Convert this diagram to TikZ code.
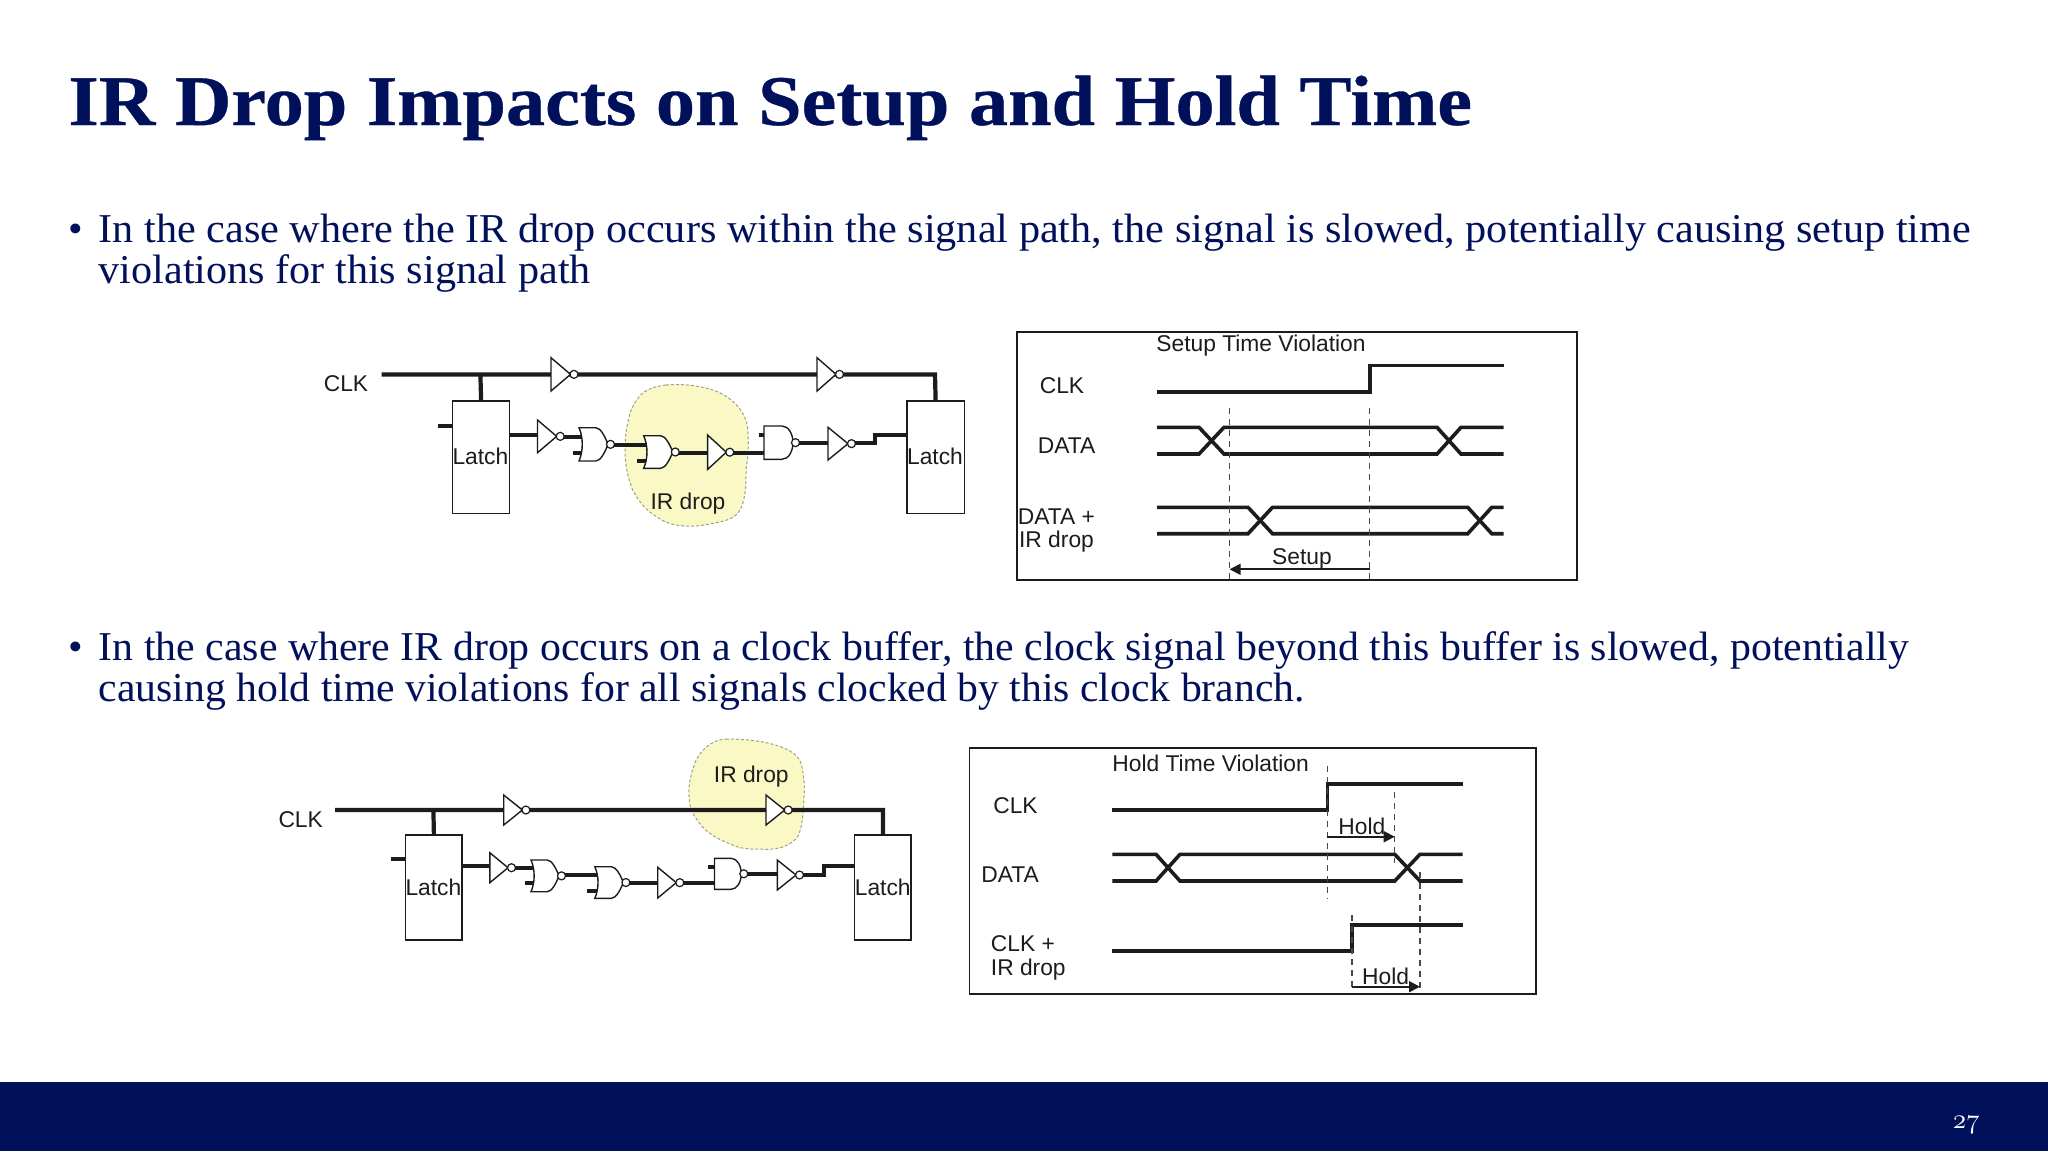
\documentclass[tikz,border=0pt]{standalone}
\usepackage{fontspec}
\setmainfont{Liberation Serif}
\newfontfamily\diagfont{Liberation Sans}
\newfontfamily\titlefont[FakeStretch=1.099,FakeBold=0.5]{Liberation Serif Bold}
\newfontfamily\bodyfont[FakeStretch=1.0173]{Liberation Serif}
\newfontfamily\pagefont[Numbers=OldStyle]{Latin Modern Roman}
\usetikzlibrary{arrows.meta,calc}
\definecolor{navy}{HTML}{00105A}
\definecolor{ink}{HTML}{1C1C1C}
\definecolor{blobfill}{HTML}{FAF9C6}
\definecolor{blobedge}{HTML}{A0A088}
\tikzset{
  heavy/.style={draw=ink,line width=2.1pt,line join=miter},
  thin box/.style={draw=ink,line width=0.7pt,fill=white},
  frame/.style={draw=ink,line width=0.9pt},
  wave/.style={draw=ink,line width=1.8pt},
  guide/.style={draw=ink!80,line width=0.6pt,dash pattern=on 3pt off 2.5pt},
  dim/.style={draw=ink,line width=0.9pt,-{Triangle[length=5.5pt,width=5.5pt]}},
  lab/.style={font=\diagfont\fontsize{11.4}{13}\selectfont,text=ink,inner sep=0pt,anchor=center},
  body/.style={font=\bodyfont\fontsize{20.5}{21}\selectfont,text=navy,inner sep=0pt,anchor=base west},
  blob/.style={fill=blobfill,draw=blobedge,line width=0.5pt,dash pattern=on 1.5pt off 1pt},
  bubble/.style={circle,draw=ink,fill=white,line width=0.6pt,inner sep=0pt,minimum size=4pt},
}
\newcommand{\myinv}[4]{%
  \draw[thin box] (#1,#3) -- (#2,{(#3+#4)/2}) -- (#1,#4) -- cycle;
  \node[bubble] at ({#2+3.5},{(#3+#4)/2}) {};
}
\newcommand{\mynor}[4]{%
  \draw[thin box] (#1,#3) -- ({#1+0.58*(#2-#1)},#3)
    .. controls ({#1+0.75*(#2-#1)},#3) and ({#1+0.9*(#2-#1)},{#3+0.28*(#4-#3)}) .. (#2,{(#3+#4)/2})
    .. controls ({#1+0.9*(#2-#1)},{#3+0.72*(#4-#3)}) and ({#1+0.75*(#2-#1)},#4) .. ({#1+0.58*(#2-#1)},#4)
    -- (#1,#4)
    .. controls ({#1+0.15*(#2-#1)},{#3+0.7*(#4-#3)}) and ({#1+0.15*(#2-#1)},{#3+0.3*(#4-#3)}) .. (#1,#3) -- cycle;
  \node[bubble] at ({#2+2.5},{(#3+#4)/2}) {};
}
\newcommand{\mynand}[4]{%
  \draw[thin box] (#1,#3) -- ({#1+0.62*(#2-#1)},#3)
    .. controls ({#1+0.85*(#2-#1)},#3) and (#2,{#3+0.25*(#4-#3)}) .. (#2,{(#3+#4)/2})
    .. controls (#2,{#3+0.75*(#4-#3)}) and ({#1+0.85*(#2-#1)},#4) .. ({#1+0.62*(#2-#1)},#4)
    -- (#1,#4) -- cycle;
  \node[bubble] at ({#2+2.5},{(#3+#4)/2}) {};
}
\begin{document}
\begin{tikzpicture}[x=0.5pt,y=-0.5pt]
\useasboundingbox (0,0) rectangle (2048,1151);
\fill[white] (0,0) rectangle (2048,1151);
\fill[navy] (0,1082) rectangle (2048,1151);
\node[font=\pagefont\fontsize{13.5}{14}\selectfont,text=white,inner sep=0pt,anchor=base] (pageno) at (1966,1128) {27};
\node[font=\titlefont\fontsize{35.6}{40}\selectfont,text=navy,inner sep=0pt,anchor=base west] (title) at (68,125) {IR Drop Impacts on Setup and Hold Time};

\node[body] (b1) at (68,242.5) {•};
\node[body,xscale=1.012] (t1a) at (98.5,242.5) {In the case where the IR drop occurs within the signal path, the signal is slowed, potentially causing setup time};
\node[body,xscale=1.011] (t1b) at (98.5,283.5) {violations for this signal path};
\node[body] (b2) at (68,660.5) {•};
\node[body,xscale=1.003] (t2a) at (98.5,660.5) {In the case where IR drop occurs on a clock buffer, the clock signal beyond this buffer is slowed, potentially};
\node[body,xscale=0.999] (t2b) at (98.5,701.5) {causing hold time violations for all signals clocked by this clock branch.};

% ---- Diagram 1
\filldraw[blob] (666,385) .. controls (690,383) and (712,388) .. (724,395)
  .. controls (740,405) and (748,418) .. (748,433)
  .. controls (749,450) and (747,462) .. (746,470)
  .. controls (746,490) and (745,500) .. (740,510)
  .. controls (735,518) and (728,520) .. (720,522)
  .. controls (705,525) and (695,527) .. (684,526)
  .. controls (672,525) and (664,522) .. (657,517)
  .. controls (645,510) and (638,500) .. (632.6,490)
  .. controls (628,478) and (625,465) .. (625,450)
  .. controls (625,435) and (627,425) .. (630,413)
  .. controls (634,402) and (640,395) .. (644,392)
  .. controls (650,388) and (658,386) .. (666,385) -- cycle;

\node[lab] (clk1) at (346,383.5) {CLK};
\coordinate (c1s) at (381.7,374.5);
\coordinate (c1e) at (935,374.5);
\node[thin box,minimum width=28.6pt,minimum height=56.3pt,inner sep=0pt,anchor=north west] (l1a) at (451.8,400.3) {};
\node[thin box,minimum width=28.6pt,minimum height=56.3pt,inner sep=0pt,anchor=north west] (l1b) at (906.3,400.3) {};
\draw[heavy] (c1s) -- (c1e) -- (l1b.north);
\draw[heavy] (480.4,374.5) -- (l1a.north);
\node[lab] at (480.4,456) {Latch};
\node[lab] at (935,456) {Latch};
\draw[heavy] (438,426) -- (452,426);
\draw[heavy] (509,435) -- (540,435);
\draw[heavy] (562,436.7) -- (583,436.7);
\draw[heavy] (573,452.7) -- (583,452.7);
\draw[heavy] (612,444.7) -- (648,444.7);
\draw[heavy] (637,460.7) -- (648,460.7);
\draw[heavy] (676,452.7) -- (710,452.7);
\draw[heavy] (732,452.7) -- (766,452.7);
\draw[heavy] (758.5,434.7) -- (766,434.7);
\draw[heavy] (797,443) -- (830,443);
\draw[heavy] (853,443.3) -- (875,443.3) -- (875,435) -- (906.3,435);
\myinv{551}{570.5}{357.7}{391}
\myinv{817}{836}{357.7}{391}
\myinv{537.5}{556.7}{420}{452.7}
\mynor{579}{608}{427.7}{461}
\mynor{643.7}{672.8}{435.7}{468.3}
\myinv{707.6}{726.3}{435}{469.4}
\mynand{764}{793}{426}{459.3}
\myinv{828}{848}{427.3}{460}
\node[lab] at (688,503.5) {IR drop};

% ---- Timing 1
\node[frame,minimum width=280pt,minimum height=124pt,inner sep=0pt,anchor=north west] (f1) at (1016,331) {};
\node[lab,anchor=west] at (1156,346) {Setup Time Violation};
\node[lab] at (1062,385.5) {CLK};
\node[lab] at (1066.5,446) {DATA};
\node[lab] at (1056.5,517) {DATA +};
\node[lab] at (1056.5,542) {IR drop};
\node[lab] at (1302,559) {Setup};
\draw[wave] (1157,392) -- (1369.7,392) -- (1369.7,365.3) -- (1503.6,365.3);
\draw[wave] (1157,427.3) -- (1199,427.3) -- (1224,454) -- (1437,454) -- (1461,427.3) -- (1503.6,427.3);
\draw[wave] (1157,454) -- (1199,454) -- (1224,427.3) -- (1437,427.3) -- (1461,454) -- (1503.6,454);
\draw[wave] (1157,507.3) -- (1248,507.3) -- (1272.5,533.7) -- (1467.7,533.7) -- (1491.8,507.3) -- (1503.6,507.3);
\draw[wave] (1157,533.7) -- (1248,533.7) -- (1272.5,507.3) -- (1467.7,507.3) -- (1491.8,533.7) -- (1503.6,533.7);
\draw[guide] (1229.6,408) -- (1229.6,579);
\draw[guide] (1369.7,408) -- (1369.7,579);
\coordinate (a1s) at (1369.7,569.3);
\coordinate (a1e) at (1229.6,569.3);
\draw[dim] (a1s) -- (a1e);

% ---- Diagram 2
\filldraw[blob] (726,739) .. controls (745,739) and (765,741) .. (780.4,746.7)
  .. controls (795,752) and (800,758) .. (802,766.7)
  .. controls (804,778) and (805,788) .. (804,796.7)
  .. controls (803,812) and (803,826) .. (797.7,836.7)
  .. controls (790,846) and (780,849) .. (767.4,849.3)
  .. controls (755,849) and (743,850) .. (732.7,845)
  .. controls (720,840) and (710,835) .. (702.3,826.7)
  .. controls (695,818) and (690,810) .. (689.3,800)
  .. controls (688,788) and (690,777) .. (693.6,766.7)
  .. controls (698,752) and (710,740) .. (726,739) -- cycle;
\node[lab] (clk2) at (300.7,819.5) {CLK};
\coordinate (c2s) at (335,810);
\coordinate (c2e) at (883,810);
\node[thin box,minimum width=28.2pt,minimum height=52.5pt,inner sep=0pt,anchor=north west] (l2a) at (405,834.3) {};
\node[thin box,minimum width=28.2pt,minimum height=52.5pt,inner sep=0pt,anchor=north west] (l2b) at (854,834.3) {};
\draw[heavy] (c2s) -- (c2e) -- (l2b.north);
\draw[heavy] (433.4,810) -- (l2a.north);
\node[lab] at (433.4,887) {Latch};
\node[lab] at (882.7,887) {Latch};
\draw[heavy] (391.4,859) -- (405.3,859);
\draw[heavy] (461.6,866.3) -- (492,866.3);
\draw[heavy] (513,868) -- (535,868);
\draw[heavy] (524.5,883.3) -- (535,883.3);
\draw[heavy] (563,875.3) -- (598,875.3);
\draw[heavy] (587.4,891) -- (598,891);
\draw[heavy] (627,882.7) -- (660,882.7);
\draw[heavy] (682,882.7) -- (716,882.7);
\draw[heavy] (708,866.7) -- (716,866.7);
\draw[heavy] (746,874) -- (780,874);
\draw[heavy] (801,874.7) -- (823.7,874.7) -- (823.7,866) -- (854.5,866);
\myinv{503.7}{522.4}{795}{825}
\myinv{766}{784.7}{795}{825}
\myinv{489.8}{508}{852.7}{882.7}
\mynor{531}{559}{860}{891.7}
\mynor{594.8}{623.4}{866.7}{898.3}
\myinv{657.7}{676.3}{867.3}{898}
\mynand{714.5}{741.3}{858.3}{889.3}
\myinv{777.3}{796}{860}{890}
\node[lab] at (751.3,777) {IR drop};

% ---- Timing 2
\node[frame,minimum width=283.3pt,minimum height=123pt,inner sep=0pt,anchor=north west] (f2) at (968.5,747) {};
\node[lab,anchor=west] at (1112,763) {Hold Time Violation};
\node[lab] at (1015.5,805.5) {CLK};
\node[lab] at (1010,875) {DATA};
\node[lab,anchor=west] at (990.5,944) {CLK +};
\node[lab,anchor=west] at (990.5,970) {IR drop};
\node[lab] at (1361.8,826) {Hold};
\node[lab] at (1385.6,976) {Hold};
\draw[wave] (1112.3,810) -- (1327.4,810) -- (1327.4,784) -- (1462.5,784);
\draw[wave] (1112.3,854.3) -- (1156,854.3) -- (1180,881) -- (1394.7,881) -- (1420,854.3) -- (1462.5,854.3);
\draw[wave] (1112.3,881) -- (1156,881) -- (1180,854.3) -- (1394.7,854.3) -- (1420,881) -- (1462.5,881);
\draw[wave] (1112.3,951) -- (1351.9,951) -- (1351.9,925) -- (1462.5,925);
\draw[guide] (1327.4,766) -- (1327.4,898.3);
\draw[guide] (1394.7,791.7) -- (1394.7,863.3);
\draw[guide] (1351.9,915) -- (1351.9,988.3);
\draw[guide] (1420,871.7) -- (1420,988.3);
\coordinate (a2s) at (1327.4,836.7);
\coordinate (a2e) at (1394.7,836.7);
\draw[dim] (a2s) -- (a2e);
\coordinate (a3s) at (1351.9,986.7);
\coordinate (a3e) at (1420,986.7);
\draw[dim] (a3s) -- (a3e);
\end{tikzpicture}
\end{document}
